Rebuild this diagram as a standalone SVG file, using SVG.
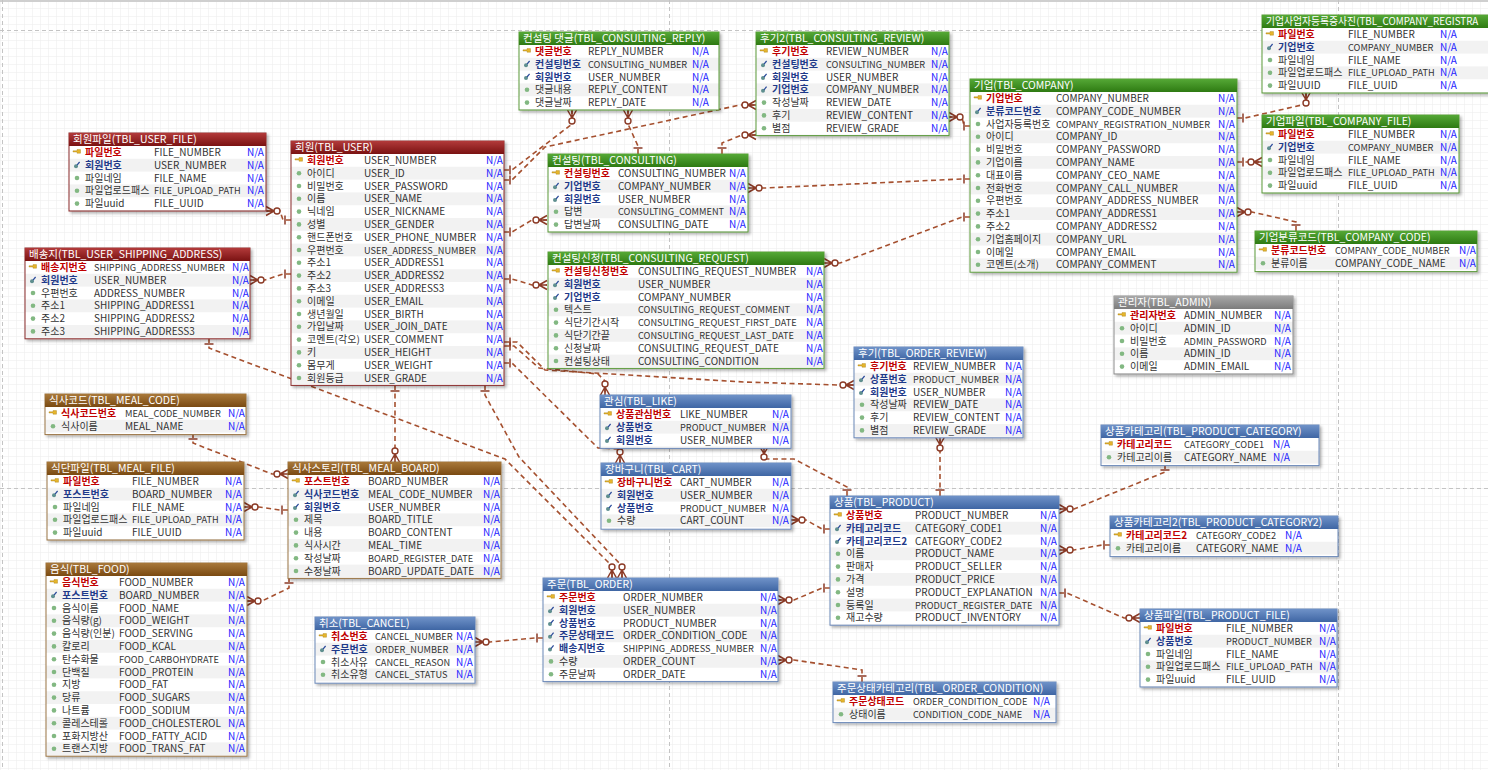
<svg xmlns="http://www.w3.org/2000/svg" width="1488" height="770" viewBox="0 0 1488 770">
<style>
text{font-family:"Noto Sans CJK KR","Noto Sans CJK SC",sans-serif;font-size:10px;fill:#333}
.h{fill:#fff;font-size:10.5px}
.pk{fill:#c00000;font-weight:bold}
.fk{fill:#1f3a8a;font-weight:bold}
.n{fill:#2424ff}
.s{font-size:9.2px}
.bx{fill:url(#rw);stroke-width:1;filter:url(#sh)}
.r{stroke:#8a2b2b}.g{stroke:#5b9a3b}.b{stroke:#9a7444}.u{stroke:#6b88b8}.y{stroke:#8c8c8c}
.c path{fill:none;stroke:#a5502f;stroke-width:1.6;stroke-dasharray:5 3.5;marker-start:url(#m1);marker-end:url(#mN)}
.pg{stroke:#c4c4c4;stroke-width:1;stroke-dasharray:4 3;fill:none}
</style>
<defs>
<pattern id="grid" patternUnits="userSpaceOnUse" width="8" height="8"><path d="M8 0H0V8" fill="none" stroke="#ececec" stroke-width="1"/></pattern>
<pattern id="rw" patternUnits="userSpaceOnUse" y="13" width="10" height="25.6"><rect width="10" height="12.8" fill="#fff"/><rect y="12.8" width="10" height="12.8" fill="#f2f2f2"/></pattern>
<linearGradient id="gR" x1="0" y1="0" x2="0" y2="1"><stop offset="0" stop-color="#b23a3a"/><stop offset="1" stop-color="#7a1212"/></linearGradient>
<linearGradient id="gG" x1="0" y1="0" x2="0" y2="1"><stop offset="0" stop-color="#55a836"/><stop offset="1" stop-color="#2e7a12"/></linearGradient>
<linearGradient id="gB" x1="0" y1="0" x2="0" y2="1"><stop offset="0" stop-color="#a8783a"/><stop offset="1" stop-color="#7a4a12"/></linearGradient>
<linearGradient id="gU" x1="0" y1="0" x2="0" y2="1"><stop offset="0" stop-color="#6f92c8"/><stop offset="1" stop-color="#3f66a4"/></linearGradient>
<linearGradient id="gY" x1="0" y1="0" x2="0" y2="1"><stop offset="0" stop-color="#a8a8a8"/><stop offset="1" stop-color="#7c7c7c"/></linearGradient>
<filter id="sh" x="-5%" y="-5%" width="115%" height="125%"><feDropShadow dx="2" dy="2" stdDeviation="1.5" flood-color="#000" flood-opacity="0.3"/></filter>
<g id="k"><path d="M-4,-1.6h4v-1.2h3.5v3.6h-3.5v-1.2h-4z" fill="#e6b62c" stroke="#a8801a" stroke-width="0.4"/></g>
<g id="f"><circle cx="-1" cy="1" r="2" fill="#5f8f8f"/><path d="M0,0L2.6,-3.2" stroke="#2a4a9a" stroke-width="1.2"/></g>
<circle id="d" r="2.3" fill="#82b882"/>
<marker id="m1" markerUnits="userSpaceOnUse" orient="auto" overflow="visible" refX="0" refY="0" markerWidth="1" markerHeight="1"><path d="M6,-4.5V4.5" stroke="#8b3a26" stroke-width="1.5"/></marker>
<marker id="mN" markerUnits="userSpaceOnUse" orient="auto" overflow="visible" refX="0" refY="0" markerWidth="1" markerHeight="1"><path d="M-8,0L0,-4.5M-8,0H0M-8,0L0,4.5" stroke="#8b3a26" stroke-width="1.5" fill="none"/><circle cx="-11" cy="0" r="3" fill="#fff" stroke="#8b3a26" stroke-width="1.4"/></marker>
</defs>
<rect width="1488" height="770" fill="#fff"/>
<rect width="1488" height="770" fill="url(#grid)"/>
<rect width="1488" height="2" fill="#cfcfcf"/>
<path class="pg" d="M0,30.5H1488M0,488.5H1488M2.5,0V770M669.5,0V770M1338.5,0V770"/>

<g class="c" id="connectors">
<path d="M291,220L283,220L280,211L266,211"/>
<path d="M291,274L283,274L265,280L250,280"/>
<path d="M209,338L209,348L505,459L612,566L612,578"/>
<path d="M485,385L485,395L519,457L622,566L622,578"/>
<path d="M395,385L395,462"/>
<path d="M504,170L512,170L572,124L572,110"/>
<path d="M504,180L512,180L545,147L740,105L756,105"/>
<path d="M638,154L638,146L628,124L628,110"/>
<path d="M722,154L722,143L742,135L756,135"/>
<path d="M970,126L964,126L962,117L949,117"/>
<path d="M970,179L962,179L765,188L748,188"/>
<path d="M970,217L962,217L840,263L824,263"/>
<path d="M1237,118L1245,118L1306,104L1306,92"/>
<path d="M1237,162L1262,162"/>
<path d="M1296,231L1296,222L1252,212L1237,212"/>
<path d="M504,232L512,232L532,220L547,220"/>
<path d="M504,279L512,279L532,285L547,285"/>
<path d="M504,342L517,342L545,370L744,382L838,385L854,385"/>
<path d="M504,346L514,346L539,368L598,374L605,381L605,395"/>
<path d="M504,363L512,363L598,448L620,449L620,463"/>
<path d="M847,496L847,487L794,459L764,459L764,446"/>
<path d="M940,496L940,437"/>
<path d="M830,529L822,529L806,520L791,520"/>
<path d="M830,588L822,588L794,600L778,600"/>
<path d="M862,682L862,670L794,660L778,660"/>
<path d="M1165,464L1165,472L1074,509L1059,509"/>
<path d="M1110,545L1102,545L1074,550L1059,550"/>
<path d="M1059,593L1067,593L1124,618L1140,618"/>
<path d="M543,638L535,638L490,642L475,642"/>
<path d="M193,433L193,443L272,474L288,474"/>
<path d="M288,510L280,510L259,507L244,507"/>
<path d="M289,577L289,588L262,601L247,601"/>
</g>

<g id="tbl-user-file" transform="translate(69,133)">
<rect class="bx r" width="197" height="78"/><rect fill="url(#gR)" width="197" height="13"/>
<text class="h" x="4" y="10">회원파일(TBL_USER_FILE)</text>
<use href="#k" x="8" y="19.4"/><text class="pk" x="16" y="22.9">파일번호</text><text x="85" y="22.9">FILE_NUMBER</text><text class="n" x="178" y="22.9">N/A</text>
<use href="#f" x="8" y="32.2"/><text class="fk" x="16" y="35.7">회원번호</text><text x="85" y="35.7">USER_NUMBER</text><text class="n" x="178" y="35.7">N/A</text>
<use href="#d" x="8" y="45"/><text x="16" y="48.5">파일네임</text><text x="85" y="48.5">FILE_NAME</text><text class="n" x="178" y="48.5">N/A</text>
<use href="#d" x="8" y="57.8"/><text x="16" y="61.3">파일업로드패스</text><text class="s" x="85" y="61.3">FILE_UPLOAD_PATH</text><text class="n" x="178" y="61.3">N/A</text>
<use href="#d" x="8" y="70.6"/><text x="16" y="74.1">파일uuid</text><text x="85" y="74.1">FILE_UUID</text><text class="n" x="178" y="74.1">N/A</text>
</g>

<g id="tbl-user" transform="translate(291,141)">
<rect class="bx r" width="213" height="244.4"/><rect fill="url(#gR)" width="213" height="13"/>
<text class="h" x="4" y="10">회원(TBL_USER)</text>
<use href="#k" x="8" y="19.4"/><text class="pk" x="16" y="22.9">회원번호</text><text x="73" y="22.9">USER_NUMBER</text><text class="n" x="195" y="22.9">N/A</text>
<use href="#d" x="8" y="32.2"/><text x="16" y="35.7">아이디</text><text x="73" y="35.7">USER_ID</text><text class="n" x="195" y="35.7">N/A</text>
<use href="#d" x="8" y="45"/><text x="16" y="48.5">비밀번호</text><text x="73" y="48.5">USER_PASSWORD</text><text class="n" x="195" y="48.5">N/A</text>
<use href="#d" x="8" y="57.8"/><text x="16" y="61.3">이름</text><text x="73" y="61.3">USER_NAME</text><text class="n" x="195" y="61.3">N/A</text>
<use href="#d" x="8" y="70.6"/><text x="16" y="74.1">닉네임</text><text x="73" y="74.1">USER_NICKNAME</text><text class="n" x="195" y="74.1">N/A</text>
<use href="#d" x="8" y="83.4"/><text x="16" y="86.9">성별</text><text x="73" y="86.9">USER_GENDER</text><text class="n" x="195" y="86.9">N/A</text>
<use href="#d" x="8" y="96.2"/><text x="16" y="99.7">핸드폰번호</text><text x="73" y="99.7">USER_PHONE_NUMBER</text><text class="n" x="195" y="99.7">N/A</text>
<use href="#d" x="8" y="109"/><text x="16" y="112.5">우편번호</text><text class="s" x="73" y="112.5">USER_ADDRESS_NUMBER</text><text class="n" x="195" y="112.5">N/A</text>
<use href="#d" x="8" y="121.8"/><text x="16" y="125.3">주소1</text><text x="73" y="125.3">USER_ADDRESS1</text><text class="n" x="195" y="125.3">N/A</text>
<use href="#d" x="8" y="134.6"/><text x="16" y="138.1">주소2</text><text x="73" y="138.1">USER_ADDRESS2</text><text class="n" x="195" y="138.1">N/A</text>
<use href="#d" x="8" y="147.4"/><text x="16" y="150.9">주소3</text><text x="73" y="150.9">USER_ADDRESS3</text><text class="n" x="195" y="150.9">N/A</text>
<use href="#d" x="8" y="160.2"/><text x="16" y="163.7">이메일</text><text x="73" y="163.7">USER_EMAIL</text><text class="n" x="195" y="163.7">N/A</text>
<use href="#d" x="8" y="173"/><text x="16" y="176.5">생년월일</text><text x="73" y="176.5">USER_BIRTH</text><text class="n" x="195" y="176.5">N/A</text>
<use href="#d" x="8" y="185.8"/><text x="16" y="189.3">가입날짜</text><text x="73" y="189.3">USER_JOIN_DATE</text><text class="n" x="195" y="189.3">N/A</text>
<use href="#d" x="8" y="198.6"/><text x="16" y="202.1">코멘트(각오)</text><text x="73" y="202.1">USER_COMMENT</text><text class="n" x="195" y="202.1">N/A</text>
<use href="#d" x="8" y="211.4"/><text x="16" y="214.9">키</text><text x="73" y="214.9">USER_HEIGHT</text><text class="n" x="195" y="214.9">N/A</text>
<use href="#d" x="8" y="224.2"/><text x="16" y="227.7">몸무게</text><text x="73" y="227.7">USER_WEIGHT</text><text class="n" x="195" y="227.7">N/A</text>
<use href="#d" x="8" y="237"/><text x="16" y="240.5">회원등급</text><text x="73" y="240.5">USER_GRADE</text><text class="n" x="195" y="240.5">N/A</text>
</g>

<g id="tbl-user-shipping-address" transform="translate(25,248)">
<rect class="bx r" width="225" height="90.8"/><rect fill="url(#gR)" width="225" height="13"/>
<text class="h" x="4" y="10">배송지(TBL_USER_SHIPPING_ADDRESS)</text>
<use href="#k" x="8" y="19.4"/><text class="pk" x="16" y="22.9">배송지번호</text><text class="s" x="69" y="22.9">SHIPPING_ADDRESS_NUMBER</text><text class="n" x="207" y="22.9">N/A</text>
<use href="#f" x="8" y="32.2"/><text class="fk" x="16" y="35.7">회원번호</text><text x="69" y="35.7">USER_NUMBER</text><text class="n" x="207" y="35.7">N/A</text>
<use href="#d" x="8" y="45"/><text x="16" y="48.5">우편번호</text><text x="69" y="48.5">ADDRESS_NUMBER</text><text class="n" x="207" y="48.5">N/A</text>
<use href="#d" x="8" y="57.8"/><text x="16" y="61.3">주소1</text><text x="69" y="61.3">SHIPPING_ADDRESS1</text><text class="n" x="207" y="61.3">N/A</text>
<use href="#d" x="8" y="70.6"/><text x="16" y="74.1">주소2</text><text x="69" y="74.1">SHIPPING_ADDRESS2</text><text class="n" x="207" y="74.1">N/A</text>
<use href="#d" x="8" y="83.4"/><text x="16" y="86.9">주소3</text><text x="69" y="86.9">SHIPPING_ADDRESS3</text><text class="n" x="207" y="86.9">N/A</text>
</g>

<g id="tbl-meal-code" transform="translate(45,394)">
<rect class="bx b" width="201" height="40.6"/><rect fill="url(#gB)" width="201" height="13"/>
<text class="h" x="4" y="10">식사코드(TBL_MEAL_CODE)</text>
<use href="#k" x="8" y="19.4"/><text class="pk" x="16" y="22.9">식사코드번호</text><text class="s" x="80" y="22.9">MEAL_CODE_NUMBER</text><text class="n" x="183" y="22.9">N/A</text>
<use href="#d" x="8" y="32.2"/><text x="16" y="35.7">식사이름</text><text x="80" y="35.7">MEAL_NAME</text><text class="n" x="183" y="35.7">N/A</text>
</g>

<g id="tbl-meal-file" transform="translate(47,462)">
<rect class="bx b" width="197" height="78"/><rect fill="url(#gB)" width="197" height="13"/>
<text class="h" x="4" y="10">식단파일(TBL_MEAL_FILE)</text>
<use href="#k" x="8" y="19.4"/><text class="pk" x="16" y="22.9">파일번호</text><text x="85" y="22.9">FILE_NUMBER</text><text class="n" x="178" y="22.9">N/A</text>
<use href="#f" x="8" y="32.2"/><text class="fk" x="16" y="35.7">포스트번호</text><text x="85" y="35.7">BOARD_NUMBER</text><text class="n" x="178" y="35.7">N/A</text>
<use href="#d" x="8" y="45"/><text x="16" y="48.5">파일네임</text><text x="85" y="48.5">FILE_NAME</text><text class="n" x="178" y="48.5">N/A</text>
<use href="#d" x="8" y="57.8"/><text x="16" y="61.3">파일업로드패스</text><text class="s" x="85" y="61.3">FILE_UPLOAD_PATH</text><text class="n" x="178" y="61.3">N/A</text>
<use href="#d" x="8" y="70.6"/><text x="16" y="74.1">파일uuid</text><text x="85" y="74.1">FILE_UUID</text><text class="n" x="178" y="74.1">N/A</text>
</g>

<g id="tbl-food" transform="translate(46,563)">
<rect class="bx b" width="201" height="193.2"/><rect fill="url(#gB)" width="201" height="13"/>
<text class="h" x="4" y="10">음식(TBL_FOOD)</text>
<use href="#k" x="8" y="19.4"/><text class="pk" x="16" y="22.9">음식번호</text><text x="73" y="22.9">FOOD_NUMBER</text><text class="n" x="182" y="22.9">N/A</text>
<use href="#f" x="8" y="32.2"/><text class="fk" x="16" y="35.7">포스트번호</text><text x="73" y="35.7">BOARD_NUMBER</text><text class="n" x="182" y="35.7">N/A</text>
<use href="#d" x="8" y="45"/><text x="16" y="48.5">음식이름</text><text x="73" y="48.5">FOOD_NAME</text><text class="n" x="182" y="48.5">N/A</text>
<use href="#d" x="8" y="57.8"/><text x="16" y="61.3">음식량(g)</text><text x="73" y="61.3">FOOD_WEIGHT</text><text class="n" x="182" y="61.3">N/A</text>
<use href="#d" x="8" y="70.6"/><text x="16" y="74.1">음식량(인분)</text><text x="73" y="74.1">FOOD_SERVING</text><text class="n" x="182" y="74.1">N/A</text>
<use href="#d" x="8" y="83.4"/><text x="16" y="86.9">칼로리</text><text x="73" y="86.9">FOOD_KCAL</text><text class="n" x="182" y="86.9">N/A</text>
<use href="#d" x="8" y="96.2"/><text x="16" y="99.7">탄수화물</text><text class="s" x="73" y="99.7">FOOD_CARBOHYDRATE</text><text class="n" x="182" y="99.7">N/A</text>
<use href="#d" x="8" y="109"/><text x="16" y="112.5">단백질</text><text x="73" y="112.5">FOOD_PROTEIN</text><text class="n" x="182" y="112.5">N/A</text>
<use href="#d" x="8" y="121.8"/><text x="16" y="125.3">지방</text><text x="73" y="125.3">FOOD_FAT</text><text class="n" x="182" y="125.3">N/A</text>
<use href="#d" x="8" y="134.6"/><text x="16" y="138.1">당류</text><text x="73" y="138.1">FOOD_SUGARS</text><text class="n" x="182" y="138.1">N/A</text>
<use href="#d" x="8" y="147.4"/><text x="16" y="150.9">나트륨</text><text x="73" y="150.9">FOOD_SODIUM</text><text class="n" x="182" y="150.9">N/A</text>
<use href="#d" x="8" y="160.2"/><text x="16" y="163.7">콜레스테롤</text><text x="73" y="163.7">FOOD_CHOLESTEROL</text><text class="n" x="182" y="163.7">N/A</text>
<use href="#d" x="8" y="173"/><text x="16" y="176.5">포화지방산</text><text x="73" y="176.5">FOOD_FATTY_ACID</text><text class="n" x="182" y="176.5">N/A</text>
<use href="#d" x="8" y="185.8"/><text x="16" y="189.3">트랜스지방</text><text x="73" y="189.3">FOOD_TRANS_FAT</text><text class="n" x="182" y="189.3">N/A</text>
</g>

<g id="tbl-meal-board" transform="translate(288,462)">
<rect class="bx b" width="213" height="116.4"/><rect fill="url(#gB)" width="213" height="13"/>
<text class="h" x="4" y="10">식사스토리(TBL_MEAL_BOARD)</text>
<use href="#k" x="8" y="19.4"/><text class="pk" x="16" y="22.9">포스트번호</text><text x="80" y="22.9">BOARD_NUMBER</text><text class="n" x="195" y="22.9">N/A</text>
<use href="#f" x="8" y="32.2"/><text class="fk" x="16" y="35.7">식사코드번호</text><text x="80" y="35.7">MEAL_CODE_NUMBER</text><text class="n" x="195" y="35.7">N/A</text>
<use href="#f" x="8" y="45"/><text class="fk" x="16" y="48.5">회원번호</text><text x="80" y="48.5">USER_NUMBER</text><text class="n" x="195" y="48.5">N/A</text>
<use href="#d" x="8" y="57.8"/><text x="16" y="61.3">제목</text><text x="80" y="61.3">BOARD_TITLE</text><text class="n" x="195" y="61.3">N/A</text>
<use href="#d" x="8" y="70.6"/><text x="16" y="74.1">내용</text><text x="80" y="74.1">BOARD_CONTENT</text><text class="n" x="195" y="74.1">N/A</text>
<use href="#d" x="8" y="83.4"/><text x="16" y="86.9">식사시간</text><text x="80" y="86.9">MEAL_TIME</text><text class="n" x="195" y="86.9">N/A</text>
<use href="#d" x="8" y="96.2"/><text x="16" y="99.7">작성날짜</text><text class="s" x="80" y="99.7">BOARD_REGISTER_DATE</text><text class="n" x="195" y="99.7">N/A</text>
<use href="#d" x="8" y="109"/><text x="16" y="112.5">수정날짜</text><text x="80" y="112.5">BOARD_UPDATE_DATE</text><text class="n" x="195" y="112.5">N/A</text>
</g>

<g id="tbl-consulting-reply" transform="translate(519,32)">
<rect class="bx g" width="200" height="78"/><rect fill="url(#gG)" width="200" height="13"/>
<text class="h" x="4" y="10">컨설팅 댓글(TBL_CONSULTING_REPLY)</text>
<use href="#k" x="8" y="19.4"/><text class="pk" x="16" y="22.9">댓글번호</text><text x="69" y="22.9">REPLY_NUMBER</text><text class="n" x="173" y="22.9">N/A</text>
<use href="#f" x="8" y="32.2"/><text class="fk" x="16" y="35.7">컨설팅번호</text><text class="s" x="69" y="35.7">CONSULTING_NUMBER</text><text class="n" x="173" y="35.7">N/A</text>
<use href="#f" x="8" y="45"/><text class="fk" x="16" y="48.5">회원번호</text><text x="69" y="48.5">USER_NUMBER</text><text class="n" x="173" y="48.5">N/A</text>
<use href="#d" x="8" y="57.8"/><text x="16" y="61.3">댓글내용</text><text x="69" y="61.3">REPLY_CONTENT</text><text class="n" x="173" y="61.3">N/A</text>
<use href="#d" x="8" y="70.6"/><text x="16" y="74.1">댓글날짜</text><text x="69" y="74.1">REPLY_DATE</text><text class="n" x="173" y="74.1">N/A</text>
</g>

<g id="tbl-consulting-review" transform="translate(756,32)">
<rect class="bx g" width="193" height="103.6"/><rect fill="url(#gG)" width="193" height="13"/>
<text class="h" x="4" y="10">후기2(TBL_CONSULTING_REVIEW)</text>
<use href="#k" x="8" y="19.4"/><text class="pk" x="16" y="22.9">후기번호</text><text x="70" y="22.9">REVIEW_NUMBER</text><text class="n" x="175" y="22.9">N/A</text>
<use href="#f" x="8" y="32.2"/><text class="fk" x="16" y="35.7">컨설팅번호</text><text class="s" x="70" y="35.7">CONSULTING_NUMBER</text><text class="n" x="175" y="35.7">N/A</text>
<use href="#f" x="8" y="45"/><text class="fk" x="16" y="48.5">회원번호</text><text x="70" y="48.5">USER_NUMBER</text><text class="n" x="175" y="48.5">N/A</text>
<use href="#f" x="8" y="57.8"/><text class="fk" x="16" y="61.3">기업번호</text><text x="70" y="61.3">COMPANY_NUMBER</text><text class="n" x="175" y="61.3">N/A</text>
<use href="#d" x="8" y="70.6"/><text x="16" y="74.1">작성날짜</text><text x="70" y="74.1">REVIEW_DATE</text><text class="n" x="175" y="74.1">N/A</text>
<use href="#d" x="8" y="83.4"/><text x="16" y="86.9">후기</text><text x="70" y="86.9">REVIEW_CONTENT</text><text class="n" x="175" y="86.9">N/A</text>
<use href="#d" x="8" y="96.2"/><text x="16" y="99.7">별점</text><text x="70" y="99.7">REVIEW_GRADE</text><text class="n" x="175" y="99.7">N/A</text>
</g>

<g id="tbl-consulting" transform="translate(548,154)">
<rect class="bx g" width="200" height="78"/><rect fill="url(#gG)" width="200" height="13"/>
<text class="h" x="4" y="10">컨설팅(TBL_CONSULTING)</text>
<use href="#k" x="8" y="19.4"/><text class="pk" x="16" y="22.9">컨설팅번호</text><text x="70" y="22.9">CONSULTING_NUMBER</text><text class="n" x="181" y="22.9">N/A</text>
<use href="#f" x="8" y="32.2"/><text class="fk" x="16" y="35.7">기업번호</text><text x="70" y="35.7">COMPANY_NUMBER</text><text class="n" x="181" y="35.7">N/A</text>
<use href="#f" x="8" y="45"/><text class="fk" x="16" y="48.5">회원번호</text><text x="70" y="48.5">USER_NUMBER</text><text class="n" x="181" y="48.5">N/A</text>
<use href="#d" x="8" y="57.8"/><text x="16" y="61.3">답변</text><text class="s" x="70" y="61.3">CONSULTING_COMMENT</text><text class="n" x="181" y="61.3">N/A</text>
<use href="#d" x="8" y="70.6"/><text x="16" y="74.1">답변날짜</text><text x="70" y="74.1">CONSULTING_DATE</text><text class="n" x="181" y="74.1">N/A</text>
</g>

<g id="tbl-company" transform="translate(970,79)">
<rect class="bx g" width="267" height="193.2"/><rect fill="url(#gG)" width="267" height="13"/>
<text class="h" x="4" y="10">기업(TBL_COMPANY)</text>
<use href="#k" x="8" y="19.4"/><text class="pk" x="16" y="22.9">기업번호</text><text x="86" y="22.9">COMPANY_NUMBER</text><text class="n" x="248" y="22.9">N/A</text>
<use href="#f" x="8" y="32.2"/><text class="fk" x="16" y="35.7">분류코드번호</text><text x="86" y="35.7">COMPANY_CODE_NUMBER</text><text class="n" x="248" y="35.7">N/A</text>
<use href="#d" x="8" y="45"/><text x="16" y="48.5">사업자등록번호</text><text class="s" x="86" y="48.5">COMPANY_REGISTRATION_NUMBER</text><text class="n" x="248" y="48.5">N/A</text>
<use href="#d" x="8" y="57.8"/><text x="16" y="61.3">아이디</text><text x="86" y="61.3">COMPANY_ID</text><text class="n" x="248" y="61.3">N/A</text>
<use href="#d" x="8" y="70.6"/><text x="16" y="74.1">비밀번호</text><text x="86" y="74.1">COMPANY_PASSWORD</text><text class="n" x="248" y="74.1">N/A</text>
<use href="#d" x="8" y="83.4"/><text x="16" y="86.9">기업이름</text><text x="86" y="86.9">COMPANY_NAME</text><text class="n" x="248" y="86.9">N/A</text>
<use href="#d" x="8" y="96.2"/><text x="16" y="99.7">대표이름</text><text x="86" y="99.7">COMPANY_CEO_NAME</text><text class="n" x="248" y="99.7">N/A</text>
<use href="#d" x="8" y="109"/><text x="16" y="112.5">전화번호</text><text x="86" y="112.5">COMPANY_CALL_NUMBER</text><text class="n" x="248" y="112.5">N/A</text>
<use href="#d" x="8" y="121.8"/><text x="16" y="125.3">우편번호</text><text x="86" y="125.3">COMPANY_ADDRESS_NUMBER</text><text class="n" x="248" y="125.3">N/A</text>
<use href="#d" x="8" y="134.6"/><text x="16" y="138.1">주소1</text><text x="86" y="138.1">COMPANY_ADDRESS1</text><text class="n" x="248" y="138.1">N/A</text>
<use href="#d" x="8" y="147.4"/><text x="16" y="150.9">주소2</text><text x="86" y="150.9">COMPANY_ADDRESS2</text><text class="n" x="248" y="150.9">N/A</text>
<use href="#d" x="8" y="160.2"/><text x="16" y="163.7">기업홈페이지</text><text x="86" y="163.7">COMPANY_URL</text><text class="n" x="248" y="163.7">N/A</text>
<use href="#d" x="8" y="173"/><text x="16" y="176.5">이메일</text><text x="86" y="176.5">COMPANY_EMAIL</text><text class="n" x="248" y="176.5">N/A</text>
<use href="#d" x="8" y="185.8"/><text x="16" y="189.3">코멘트(소개)</text><text x="86" y="189.3">COMPANY_COMMENT</text><text class="n" x="248" y="189.3">N/A</text>
</g>

<g id="tbl-company-registration" transform="translate(1262,15)">
<rect class="bx g" width="240" height="78"/><rect fill="url(#gG)" width="240" height="13"/>
<text class="h" x="4" y="10" style="font-size:9.8px">기업사업자등록증사진(TBL_COMPANY_REGISTRA</text>
<use href="#k" x="8" y="19.4"/><text class="pk" x="16" y="22.9">파일번호</text><text x="86" y="22.9">FILE_NUMBER</text><text class="n" x="178" y="22.9">N/A</text>
<use href="#f" x="8" y="32.2"/><text class="fk" x="16" y="35.7">기업번호</text><text class="s" x="86" y="35.7">COMPANY_NUMBER</text><text class="n" x="178" y="35.7">N/A</text>
<use href="#d" x="8" y="45"/><text x="16" y="48.5">파일네임</text><text x="86" y="48.5">FILE_NAME</text><text class="n" x="178" y="48.5">N/A</text>
<use href="#d" x="8" y="57.8"/><text x="16" y="61.3">파일업로드패스</text><text class="s" x="86" y="61.3">FILE_UPLOAD_PATH</text><text class="n" x="178" y="61.3">N/A</text>
<use href="#d" x="8" y="70.6"/><text x="16" y="74.1">파일UUID</text><text x="86" y="74.1">FILE_UUID</text><text class="n" x="178" y="74.1">N/A</text>
</g>

<g id="tbl-company-file" transform="translate(1262,115)">
<rect class="bx g" width="197" height="78"/><rect fill="url(#gG)" width="197" height="13"/>
<text class="h" x="4" y="10">기업파일(TBL_COMPANY_FILE)</text>
<use href="#k" x="8" y="19.4"/><text class="pk" x="16" y="22.9">파일번호</text><text x="86" y="22.9">FILE_NUMBER</text><text class="n" x="178" y="22.9">N/A</text>
<use href="#f" x="8" y="32.2"/><text class="fk" x="16" y="35.7">기업번호</text><text class="s" x="86" y="35.7">COMPANY_NUMBER</text><text class="n" x="178" y="35.7">N/A</text>
<use href="#d" x="8" y="45"/><text x="16" y="48.5">파일네임</text><text x="86" y="48.5">FILE_NAME</text><text class="n" x="178" y="48.5">N/A</text>
<use href="#d" x="8" y="57.8"/><text x="16" y="61.3">파일업로드패스</text><text class="s" x="86" y="61.3">FILE_UPLOAD_PATH</text><text class="n" x="178" y="61.3">N/A</text>
<use href="#d" x="8" y="70.6"/><text x="16" y="74.1">파일uuid</text><text x="86" y="74.1">FILE_UUID</text><text class="n" x="178" y="74.1">N/A</text>
</g>

<g id="tbl-company-code" transform="translate(1255,231)">
<rect class="bx g" width="222" height="40.6"/><rect fill="url(#gG)" width="222" height="13"/>
<text class="h" x="4" y="10">기업분류코드(TBL_COMPANY_CODE)</text>
<use href="#k" x="8" y="19.4"/><text class="pk" x="16" y="22.9">분류코드번호</text><text class="s" x="80" y="22.9">COMPANY_CODE_NUMBER</text><text class="n" x="204" y="22.9">N/A</text>
<use href="#d" x="8" y="32.2"/><text x="16" y="35.7">분류이름</text><text x="80" y="35.7">COMPANY_CODE_NAME</text><text class="n" x="204" y="35.7">N/A</text>
</g>

<g id="tbl-consulting-request" transform="translate(548,252)">
<rect class="bx g" width="276" height="116.4"/><rect fill="url(#gG)" width="276" height="13"/>
<text class="h" x="4" y="10">컨설팅신청(TBL_CONSULTING_REQUEST)</text>
<use href="#k" x="8" y="19.4"/><text class="pk" x="16" y="22.9">컨설팅신청번호</text><text x="90" y="22.9">CONSULTING_REQUEST_NUMBER</text><text class="n" x="258" y="22.9">N/A</text>
<use href="#f" x="8" y="32.2"/><text class="fk" x="16" y="35.7">회원번호</text><text x="90" y="35.7">USER_NUMBER</text><text class="n" x="258" y="35.7">N/A</text>
<use href="#f" x="8" y="45"/><text class="fk" x="16" y="48.5">기업번호</text><text x="90" y="48.5">COMPANY_NUMBER</text><text class="n" x="258" y="48.5">N/A</text>
<use href="#d" x="8" y="57.8"/><text x="16" y="61.3">텍스트</text><text class="s" x="90" y="61.3">CONSULTING_REQUEST_COMMENT</text><text class="n" x="258" y="61.3">N/A</text>
<use href="#d" x="8" y="70.6"/><text x="16" y="74.1">식단기간시작</text><text class="s" x="90" y="74.1">CONSULTING_REQUEST_FIRST_DATE</text><text class="n" x="258" y="74.1">N/A</text>
<use href="#d" x="8" y="83.4"/><text x="16" y="86.9">식단기간끝</text><text class="s" x="90" y="86.9">CONSULTING_REQUEST_LAST_DATE</text><text class="n" x="258" y="86.9">N/A</text>
<use href="#d" x="8" y="96.2"/><text x="16" y="99.7">신청날짜</text><text x="90" y="99.7">CONSULTING_REQUEST_DATE</text><text class="n" x="258" y="99.7">N/A</text>
<use href="#d" x="8" y="109"/><text x="16" y="112.5">컨설팅상태</text><text x="90" y="112.5">CONSULTING_CONDITION</text><text class="n" x="258" y="112.5">N/A</text>
</g>

<g id="tbl-admin" transform="translate(1114,296)">
<rect class="bx y" width="179" height="78"/><rect fill="url(#gY)" width="179" height="13"/>
<text class="h" x="4" y="10">관리자(TBL_ADMIN)</text>
<use href="#k" x="8" y="19.4"/><text class="pk" x="16" y="22.9">관리자번호</text><text x="70" y="22.9">ADMIN_NUMBER</text><text class="n" x="160" y="22.9">N/A</text>
<use href="#d" x="8" y="32.2"/><text x="16" y="35.7">아이디</text><text x="70" y="35.7">ADMIN_ID</text><text class="n" x="160" y="35.7">N/A</text>
<use href="#d" x="8" y="45"/><text x="16" y="48.5">비밀번호</text><text class="s" x="70" y="48.5">ADMIN_PASSWORD</text><text class="n" x="160" y="48.5">N/A</text>
<use href="#d" x="8" y="57.8"/><text x="16" y="61.3">이름</text><text x="70" y="61.3">ADMIN_ID</text><text class="n" x="160" y="61.3">N/A</text>
<use href="#d" x="8" y="70.6"/><text x="16" y="74.1">이메일</text><text x="70" y="74.1">ADMIN_EMAIL</text><text class="n" x="160" y="74.1">N/A</text>
</g>

<g id="tbl-order-review" transform="translate(854,347)">
<rect class="bx u" width="169" height="90.8"/><rect fill="url(#gU)" width="169" height="13"/>
<text class="h" x="4" y="10">후기(TBL_ORDER_REVIEW)</text>
<use href="#k" x="8" y="19.4"/><text class="pk" x="16" y="22.9">후기번호</text><text x="59" y="22.9">REVIEW_NUMBER</text><text class="n" x="151" y="22.9">N/A</text>
<use href="#f" x="8" y="32.2"/><text class="fk" x="16" y="35.7">상품번호</text><text class="s" x="59" y="35.7">PRODUCT_NUMBER</text><text class="n" x="151" y="35.7">N/A</text>
<use href="#f" x="8" y="45"/><text class="fk" x="16" y="48.5">회원번호</text><text x="59" y="48.5">USER_NUMBER</text><text class="n" x="151" y="48.5">N/A</text>
<use href="#d" x="8" y="57.8"/><text x="16" y="61.3">작성날짜</text><text x="59" y="61.3">REVIEW_DATE</text><text class="n" x="151" y="61.3">N/A</text>
<use href="#d" x="8" y="70.6"/><text x="16" y="74.1">후기</text><text x="59" y="74.1">REVIEW_CONTENT</text><text class="n" x="151" y="74.1">N/A</text>
<use href="#d" x="8" y="83.4"/><text x="16" y="86.9">별점</text><text x="59" y="86.9">REVIEW_GRADE</text><text class="n" x="151" y="86.9">N/A</text>
</g>

<g id="tbl-like" transform="translate(600,395)">
<rect class="bx u" width="191" height="53.4"/><rect fill="url(#gU)" width="191" height="13"/>
<text class="h" x="4" y="10">관심(TBL_LIKE)</text>
<use href="#k" x="8" y="19.4"/><text class="pk" x="16" y="22.9">상품관심번호</text><text x="80" y="22.9">LIKE_NUMBER</text><text class="n" x="172" y="22.9">N/A</text>
<use href="#f" x="8" y="32.2"/><text class="fk" x="16" y="35.7">상품번호</text><text class="s" x="80" y="35.7">PRODUCT_NUMBER</text><text class="n" x="172" y="35.7">N/A</text>
<use href="#f" x="8" y="45"/><text class="fk" x="16" y="48.5">회원번호</text><text x="80" y="48.5">USER_NUMBER</text><text class="n" x="172" y="48.5">N/A</text>
</g>

<g id="tbl-cart" transform="translate(601,463)">
<rect class="bx u" width="190" height="66.2"/><rect fill="url(#gU)" width="190" height="13"/>
<text class="h" x="4" y="10">장바구니(TBL_CART)</text>
<use href="#k" x="8" y="19.4"/><text class="pk" x="16" y="22.9">장바구니번호</text><text x="79" y="22.9">CART_NUMBER</text><text class="n" x="171" y="22.9">N/A</text>
<use href="#f" x="8" y="32.2"/><text class="fk" x="16" y="35.7">회원번호</text><text x="79" y="35.7">USER_NUMBER</text><text class="n" x="171" y="35.7">N/A</text>
<use href="#f" x="8" y="45"/><text class="fk" x="16" y="48.5">상품번호</text><text class="s" x="79" y="48.5">PRODUCT_NUMBER</text><text class="n" x="171" y="48.5">N/A</text>
<use href="#d" x="8" y="57.8"/><text x="16" y="61.3">수량</text><text x="79" y="61.3">CART_COUNT</text><text class="n" x="171" y="61.3">N/A</text>
</g>

<g id="tbl-product" transform="translate(830,496)">
<rect class="bx u" width="229" height="129.2"/><rect fill="url(#gU)" width="229" height="13"/>
<text class="h" x="4" y="10">상품(TBL_PRODUCT)</text>
<use href="#k" x="8" y="19.4"/><text class="pk" x="16" y="22.9">상품번호</text><text x="85" y="22.9">PRODUCT_NUMBER</text><text class="n" x="210" y="22.9">N/A</text>
<use href="#f" x="8" y="32.2"/><text class="fk" x="16" y="35.7">카테고리코드</text><text x="85" y="35.7">CATEGORY_CODE1</text><text class="n" x="210" y="35.7">N/A</text>
<use href="#f" x="8" y="45"/><text class="fk" x="16" y="48.5">카테고리코드2</text><text x="85" y="48.5">CATEGORY_CODE2</text><text class="n" x="210" y="48.5">N/A</text>
<use href="#d" x="8" y="57.8"/><text x="16" y="61.3">이름</text><text x="85" y="61.3">PRODUCT_NAME</text><text class="n" x="210" y="61.3">N/A</text>
<use href="#d" x="8" y="70.6"/><text x="16" y="74.1">판매자</text><text x="85" y="74.1">PRODUCT_SELLER</text><text class="n" x="210" y="74.1">N/A</text>
<use href="#d" x="8" y="83.4"/><text x="16" y="86.9">가격</text><text x="85" y="86.9">PRODUCT_PRICE</text><text class="n" x="210" y="86.9">N/A</text>
<use href="#d" x="8" y="96.2"/><text x="16" y="99.7">설명</text><text x="85" y="99.7">PRODUCT_EXPLANATION</text><text class="n" x="210" y="99.7">N/A</text>
<use href="#d" x="8" y="109"/><text x="16" y="112.5">등록일</text><text class="s" x="85" y="112.5">PRODUCT_REGISTER_DATE</text><text class="n" x="210" y="112.5">N/A</text>
<use href="#d" x="8" y="121.8"/><text x="16" y="125.3">재고수량</text><text x="85" y="125.3">PRODUCT_INVENTORY</text><text class="n" x="210" y="125.3">N/A</text>
</g>

<g id="tbl-product-category" transform="translate(1101,425)">
<rect class="bx u" width="218" height="40.6"/><rect fill="url(#gU)" width="218" height="13"/>
<text class="h" x="4" y="10">상품카테고리(TBL_PRODUCT_CATEGORY)</text>
<use href="#k" x="8" y="19.4"/><text class="pk" x="16" y="22.9">카테고리코드</text><text class="s" x="83" y="22.9">CATEGORY_CODE1</text><text class="n" x="172" y="22.9">N/A</text>
<use href="#d" x="8" y="32.2"/><text x="16" y="35.7">카테고리이름</text><text x="83" y="35.7">CATEGORY_NAME</text><text class="n" x="172" y="35.7">N/A</text>
</g>

<g id="tbl-product-category2" transform="translate(1110,516)">
<rect class="bx u" width="228" height="40.6"/><rect fill="url(#gU)" width="228" height="13"/>
<text class="h" x="4" y="10">상품카테고리2(TBL_PRODUCT_CATEGORY2)</text>
<use href="#k" x="8" y="19.4"/><text class="pk" x="16" y="22.9">카테고리코드2</text><text class="s" x="86" y="22.9">CATEGORY_CODE2</text><text class="n" x="175" y="22.9">N/A</text>
<use href="#d" x="8" y="32.2"/><text x="16" y="35.7">카테고리이름</text><text x="86" y="35.7">CATEGORY_NAME</text><text class="n" x="175" y="35.7">N/A</text>
</g>

<g id="tbl-product-file" transform="translate(1140,609)">
<rect class="bx u" width="197" height="78"/><rect fill="url(#gU)" width="197" height="13"/>
<text class="h" x="4" y="10">상품파일(TBL_PRODUCT_FILE)</text>
<use href="#k" x="8" y="19.4"/><text class="pk" x="16" y="22.9">파일번호</text><text x="86" y="22.9">FILE_NUMBER</text><text class="n" x="179" y="22.9">N/A</text>
<use href="#f" x="8" y="32.2"/><text class="fk" x="16" y="35.7">상품번호</text><text class="s" x="86" y="35.7">PRODUCT_NUMBER</text><text class="n" x="179" y="35.7">N/A</text>
<use href="#d" x="8" y="45"/><text x="16" y="48.5">파일네임</text><text x="86" y="48.5">FILE_NAME</text><text class="n" x="179" y="48.5">N/A</text>
<use href="#d" x="8" y="57.8"/><text x="16" y="61.3">파일업로드패스</text><text class="s" x="86" y="61.3">FILE_UPLOAD_PATH</text><text class="n" x="179" y="61.3">N/A</text>
<use href="#d" x="8" y="70.6"/><text x="16" y="74.1">파일uuid</text><text x="86" y="74.1">FILE_UUID</text><text class="n" x="179" y="74.1">N/A</text>
</g>

<g id="tbl-order" transform="translate(543,578)">
<rect class="bx u" width="235" height="103.6"/><rect fill="url(#gU)" width="235" height="13"/>
<text class="h" x="4" y="10">주문(TBL_ORDER)</text>
<use href="#k" x="8" y="19.4"/><text class="pk" x="16" y="22.9">주문번호</text><text x="80" y="22.9">ORDER_NUMBER</text><text class="n" x="217" y="22.9">N/A</text>
<use href="#f" x="8" y="32.2"/><text class="fk" x="16" y="35.7">회원번호</text><text x="80" y="35.7">USER_NUMBER</text><text class="n" x="217" y="35.7">N/A</text>
<use href="#f" x="8" y="45"/><text class="fk" x="16" y="48.5">상품번호</text><text x="80" y="48.5">PRODUCT_NUMBER</text><text class="n" x="217" y="48.5">N/A</text>
<use href="#f" x="8" y="57.8"/><text class="fk" x="16" y="61.3">주문상태코드</text><text x="80" y="61.3">ORDER_CONDITION_CODE</text><text class="n" x="217" y="61.3">N/A</text>
<use href="#f" x="8" y="70.6"/><text class="fk" x="16" y="74.1">배송지번호</text><text class="s" x="80" y="74.1">SHIPPING_ADDRESS_NUMBER</text><text class="n" x="217" y="74.1">N/A</text>
<use href="#d" x="8" y="83.4"/><text x="16" y="86.9">수량</text><text x="80" y="86.9">ORDER_COUNT</text><text class="n" x="217" y="86.9">N/A</text>
<use href="#d" x="8" y="96.2"/><text x="16" y="99.7">주문날짜</text><text x="80" y="99.7">ORDER_DATE</text><text class="n" x="217" y="99.7">N/A</text>
</g>

<g id="tbl-cancel" transform="translate(315,617)">
<rect class="bx u" width="160" height="66.2"/><rect fill="url(#gU)" width="160" height="13"/>
<text class="h" x="4" y="10">취소(TBL_CANCEL)</text>
<use href="#k" x="8" y="19.4"/><text class="pk" x="16" y="22.9">취소번호</text><text class="s" x="60" y="22.9">CANCEL_NUMBER</text><text class="n" x="141" y="22.9">N/A</text>
<use href="#f" x="8" y="32.2"/><text class="fk" x="16" y="35.7">주문번호</text><text class="s" x="60" y="35.7">ORDER_NUMBER</text><text class="n" x="141" y="35.7">N/A</text>
<use href="#d" x="8" y="45"/><text x="16" y="48.5">취소사유</text><text class="s" x="60" y="48.5">CANCEL_REASON</text><text class="n" x="141" y="48.5">N/A</text>
<use href="#d" x="8" y="57.8"/><text x="16" y="61.3">취소유형</text><text class="s" x="60" y="61.3">CANCEL_STATUS</text><text class="n" x="141" y="61.3">N/A</text>
</g>

<g id="tbl-order-condition" transform="translate(833,682)">
<rect class="bx u" width="223" height="40.6"/><rect fill="url(#gU)" width="223" height="13"/>
<text class="h" x="4" y="10">주문상태카테고리(TBL_ORDER_CONDITION)</text>
<use href="#k" x="8" y="19.4"/><text class="pk" x="16" y="22.9">주문상태코드</text><text class="s" x="80" y="22.9">ORDER_CONDITION_CODE</text><text class="n" x="200" y="22.9">N/A</text>
<use href="#d" x="8" y="32.2"/><text x="16" y="35.7">상태이름</text><text class="s" x="80" y="35.7">CONDITION_CODE_NAME</text><text class="n" x="200" y="35.7">N/A</text>
</g>
</svg>
